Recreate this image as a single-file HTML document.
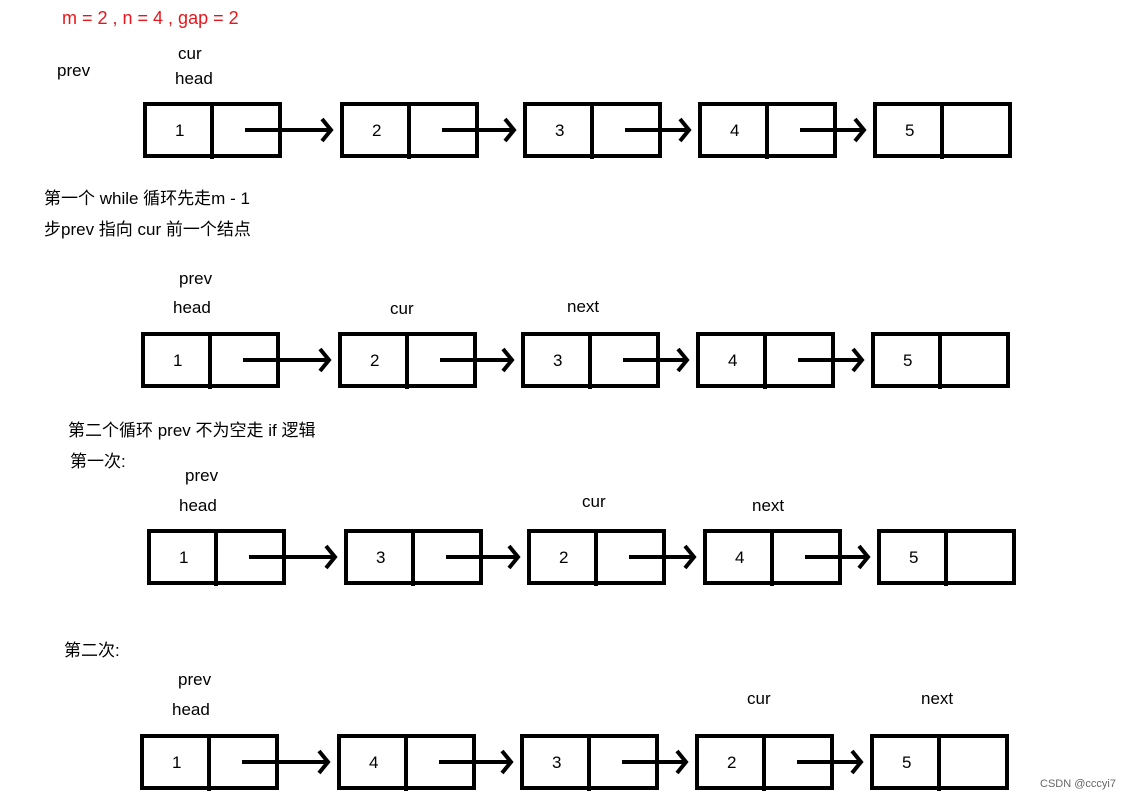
<!DOCTYPE html>
<html><head><meta charset="utf-8"><style>
html,body{margin:0;padding:0;background:#fff;}
svg{display:block;}
text{font-family:"Liberation Sans","Noto Sans CJK SC",sans-serif;font-size:17px;fill:#000;}
</style></head><body>
<svg id="s" width="1132" height="798" xmlns="http://www.w3.org/2000/svg">
<text x="62" y="24" style="fill:#e8161c;font-size:18px">m = 2 , n = 4 , gap = 2</text>
<text x="57" y="76">prev</text>
<text x="178" y="59">cur</text>
<text x="175" y="84">head</text>
<text x="44" y="204">第一个 while 循环先走m - 1</text>
<text x="44" y="235">步prev 指向 cur 前一个结点</text>
<text x="179" y="284">prev</text>
<text x="173" y="313">head</text>
<text x="390" y="314">cur</text>
<text x="567" y="312">next</text>
<text x="68" y="436">第二个循环 prev 不为空走 if 逻辑</text>
<text x="70" y="467">第一次:</text>
<text x="185" y="481">prev</text>
<text x="179" y="511">head</text>
<text x="582" y="507">cur</text>
<text x="752" y="511">next</text>
<text x="64" y="656">第二次:</text>
<text x="178" y="685">prev</text>
<text x="172" y="715">head</text>
<text x="747" y="704">cur</text>
<text x="921" y="704">next</text>
<text x="1040" y="787" style="font-size:11px;fill:#666">CSDN @cccyi7</text>
<g id="g" stroke="#000" stroke-width="4" fill="none"></g>
<g id="t"></g>
</svg>
<script>
var rows=[
 {y:104,xs:[145,342,525,700,875],v:[1,2,3,4,5]},
 {y:334,xs:[143,340,523,698,873],v:[1,2,3,4,5]},
 {y:531,xs:[149,346,529,705,879],v:[1,3,2,4,5]},
 {y:736,xs:[142,339,522,697,872],v:[1,4,3,2,5]}
];
var g=document.getElementById('g'),t=document.getElementById('t'),ns="http://www.w3.org/2000/svg";
function el(p,n,a,txt){var e=document.createElementNS(ns,n);for(var k in a)e.setAttribute(k,a[k]);if(txt!=null)e.textContent=txt;p.appendChild(e);}
rows.forEach(function(r){
 var h=52,m=r.y+h/2;
 r.xs.forEach(function(x,i){
  el(g,'rect',{x:x,y:r.y,width:135,height:h});
  el(g,'line',{x1:x+67,y1:r.y,x2:x+67,y2:r.y+h+3});
  el(t,'text',{x:x+30,y:m+6},String(r.v[i]));
  if(i<4){var nx=r.xs[i+1];
   el(g,'line',{x1:x+100,y1:m,x2:nx-12,y2:m});
   el(g,'path',{d:'M'+(nx-20)+' '+(m-11)+' L'+(nx-11)+' '+m+' L'+(nx-20)+' '+(m+11)});
  }
 });
});
</script>
</body></html>
